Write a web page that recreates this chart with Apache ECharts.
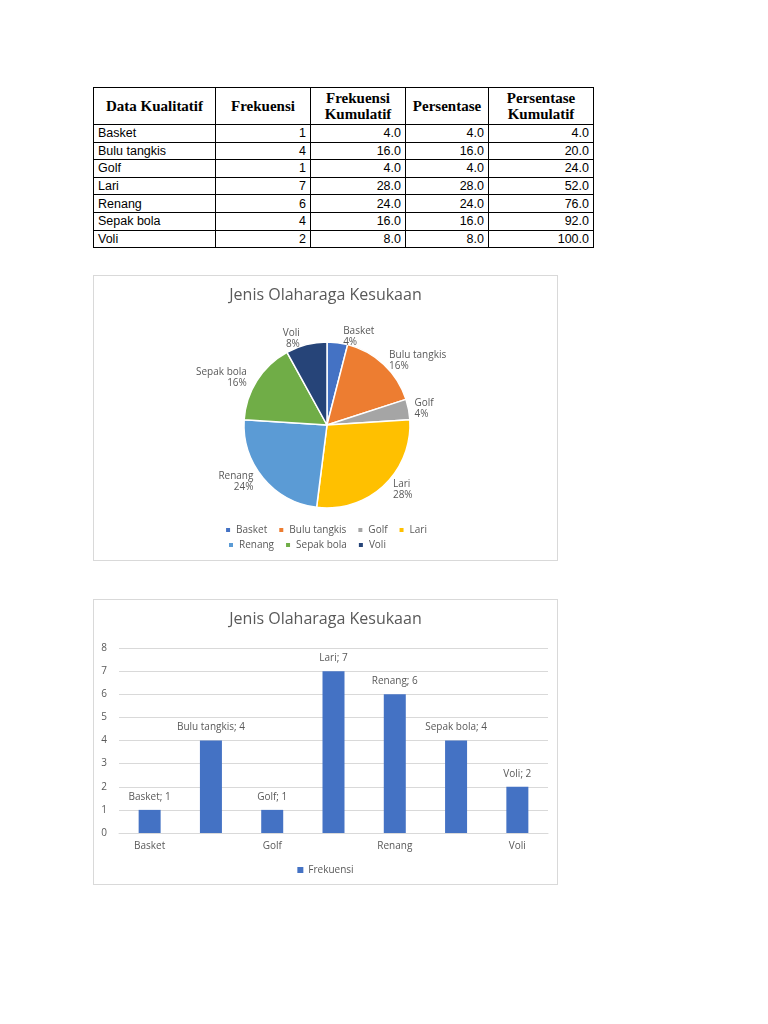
<!DOCTYPE html>
<html><head><meta charset="utf-8">
<script src="https://cdn.jsdelivr.net/npm/echarts@6/dist/echarts.min.js"></script>
<style>
body{margin:0;background:#fff;width:768px;height:1024px;position:relative;font-family:"Liberation Sans",Arial,sans-serif}
table{position:absolute;left:93px;top:87px;border-collapse:collapse;width:501px}
td,th{border:1px solid #000;padding:0 4px;font-size:12.5px;height:16.6px}
th{font-family:"Liberation Serif",serif;font-size:15px;height:36px;font-weight:bold;line-height:16px}
td.n{text-align:right}
.box{position:absolute;left:93px;width:463px;height:284px;border:1px solid #d9d9d9}
</style></head><body>
<table id="tbl"><tr><th style="width:113px">Data Kualitatif</th><th style="width:86px">Frekuensi</th><th style="width:86px">Frekuensi<br>Kumulatif</th><th style="width:74px">Persentase</th><th>Persentase<br>Kumulatif</th></tr></table>
<div class="box" id="pie" style="top:275px"></div>
<div class="box" id="bar" style="top:599px"></div>
<script>
const categories = ['Basket','Bulu tangkis','Golf','Lari','Renang','Sepak bola','Voli'];
const frekuensi = [1,4,1,7,6,4,2];
const frekKumulatif = ['4.0','16.0','4.0','28.0','24.0','16.0','8.0'];
const persentase = ['4.0','16.0','4.0','28.0','24.0','16.0','8.0'];
const persenKumulatif = ['4.0','20.0','24.0','52.0','76.0','92.0','100.0'];
const colors = ['#4472C4','#ED7D31','#A5A5A5','#FFC000','#5B9BD5','#70AD47','#264478'];

const tbl = document.getElementById('tbl');
categories.forEach((c,i)=>{
  const tr = document.createElement('tr');
  tr.innerHTML = '<td>'+c+'</td><td class="n">'+frekuensi[i]+'</td><td class="n">'+frekKumulatif[i]+
    '</td><td class="n">'+persentase[i]+'</td><td class="n">'+persenKumulatif[i]+'</td>';
  tbl.appendChild(tr);
});

const font = 'Open Sans';
const titleStyle = {text:'Jenis Olaharaga Kesukaan', left:'center', top:6, textStyle:{fontFamily:font,fontSize:16,fontWeight:'normal',color:'#595959'}};
const legendText = {fontFamily:font,fontSize:10,color:'#595959'};

let pie = echarts.init(document.getElementById('pie'));
pie.setOption({
  color: colors,
  title: titleStyle,
  legend: [
    {data:categories.slice(0,4), bottom:20, left:'center', icon:'rect', itemWidth:6, itemHeight:6, itemGap:10, textStyle:legendText},
    {data:categories.slice(4), bottom:5, left:128, icon:'rect', itemWidth:6, itemHeight:6, itemGap:10, textStyle:legendText}
  ],
  series:[{
    type:'pie', center:[233,149], radius:83, startAngle:90,
    data: categories.map((c,i)=>({name:c, value:frekuensi[i]})),
    itemStyle:{borderColor:'#fff',borderWidth:1.5},
    label:{formatter:'{b}\n{d}%', fontFamily:font, fontSize:10, color:'#595959', lineHeight:11, align:'center'},
    labelLine:{show:false, length:6, length2:0},
    emphasis:{disabled:true}
  }]
});

let bar = echarts.init(document.getElementById('bar'));
bar.setOption({
  title: titleStyle,
  legend:{data:['Frekuensi'], bottom:4, icon:'rect', itemWidth:6, itemHeight:6, textStyle:legendText},
  grid:{left:25, right:9, top:48, bottom:51},
  xAxis:{type:'category', data:categories, axisTick:{show:false},
    axisLine:{lineStyle:{color:'#d9d9d9'}}, axisLabel:{fontFamily:font,fontSize:10,color:'#595959'}},
  yAxis:{type:'value', min:0, max:8, interval:1, axisLabel:{fontFamily:font,fontSize:10,color:'#595959',margin:12},
    splitLine:{lineStyle:{color:'#d9d9d9'}}},
  series:[{name:'Frekuensi', type:'bar', data:frekuensi, barWidth:22, itemStyle:{color:'#4472C4'},
    label:{show:true, position:'top', formatter:p=>p.name+'; '+p.value, fontFamily:font, fontSize:10, color:'#595959', distance:8}}]
});
</script>
</body></html>
